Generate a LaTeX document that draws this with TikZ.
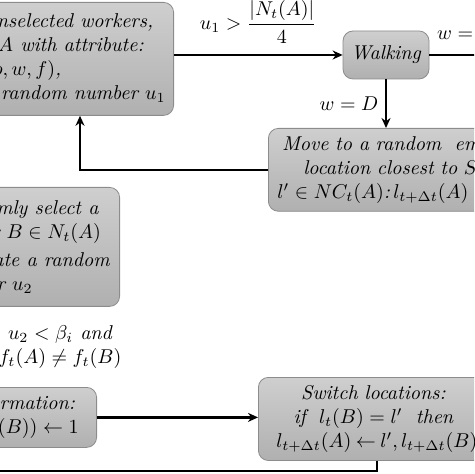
\documentclass[tikz,border=0pt]{standalone}
\usepackage{amsmath, amssymb}
\usepackage{tikz}
\usetikzlibrary{positioning,shapes,arrows.meta}

\begin{document}
\begin{tikzpicture}[x=0.5pt,y=-0.5pt,
	boite/.style={draw=black!45, rounded corners=5pt, top color=gray!38, bottom color=gray!62, font=\itshape, align=center, inner sep=4pt},
	fleche/.style={-{Stealth[length=5pt,width=4.5pt]}, line width=1.1pt},
	trait/.style={line width=1.1pt},
	etiq/.style={font=\itshape}]
	\useasboundingbox (0,0) rectangle (474,474);
	\clip (0,0) rectangle (474,474);
	
	% Choix des travailleurs
	\node[boite, anchor=north east, minimum height=56.5pt] (choix) at (174,2) {Iterate over unselected workers,\\ each worker $A$ with attribute:\\ $(l,p,w,f)$,\\ and generate a random number $u_1$};
	
	% Marche
	\node[boite, minimum width=43pt, minimum height=24pt] (marche) at (386,55) {Walking};
	\draw[fleche] (choix.east |- marche.west) -- node[etiq, above=2pt] {$u_1 > \dfrac{|N_t(A)|}{4}$} (marche.west);
	
	% Sortie vers la droite
	\coordinate (sortie) at (500,55);
	\draw[trait] (marche.east) -- (sortie) node[etiq, pos=0, above right, yshift=4pt] {$w = W$};
	
	% Deplacement
	\node[boite, anchor=north west, text width=118pt, minimum height=34.5pt] (deplace) at (268,128) {\makebox[\linewidth]{Move to a random\ \ empty}\\ \makebox[\linewidth]{location closest to $S_p$}\\ \makebox[\linewidth]{\medmuskip=3mu$l' \in NC_t(A)$:\,$l_{t+\Delta t}(A) \leftarrow l'$}};
	\draw[fleche] (marche.south) -- node[etiq, left] {$w = D$} (marche.south |- deplace.north);
	
	% Retour
	\coordinate (haut) at (80,0);
	\draw[fleche] (deplace.west) -| (haut |- choix.south);
	
	% Choix du voisin
	\node[boite, anchor=north east, align=left, inner xsep=5pt, minimum height=59.5pt] (voisin) at (120,187) {Randomly select a\\ worker $B \in N_t(A)$\\[2pt] Generate a random\\ number $u_2$};
	
	% Condition
	\node[etiq, align=center] (cond) at (60,347) {$u_2 < \beta_i$ and\\ $f_t(A) \neq f_t(B)$};
	
	% Information
	\node[boite, anchor=north east, inner xsep=9pt, minimum height=30pt] (info) at (97,387) {Share information:\\ $I(f_t(A),f_t(B)) \leftarrow 1$};
	
	% Echange
	\node[boite, anchor=north west, inner xsep=9pt, text width=97pt, minimum height=36.5pt] (echange) at (258,377) {\makebox[\linewidth]{Switch locations:}\\ \makebox[\linewidth]{if\ \ $l_t(B) = l'$\ \ then}\\ \makebox[\linewidth][l]{\thickmuskip=4mu\medmuskip=3mu$l_{t+\Delta t}(A) \leftarrow l', l_{t+\Delta t}(B) \leftarrow l_t(A)$}};
	\draw[fleche] (info.east) -- (info.east -| echange.west);
	
	% Boucle finale
	\coordinate (bas) at (377,471);
	\coordinate (fin) at (-10,471);
	\draw[trait] (bas |- echange.south) -- (bas) -- (fin);
\end{tikzpicture}
\end{document}
